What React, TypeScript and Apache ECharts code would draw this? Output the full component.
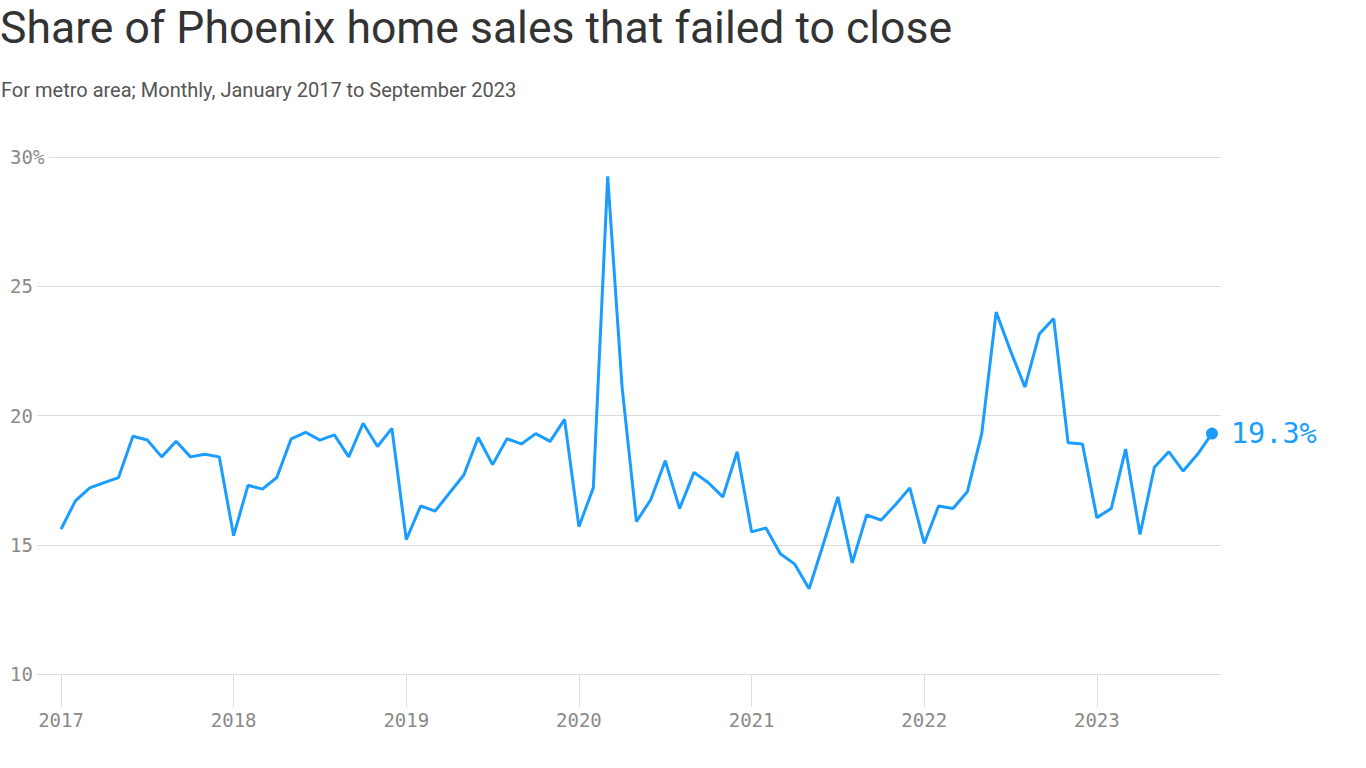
import React, { useEffect, useRef } from 'react';
import * as echarts from 'echarts';

// Share of failed closings, by month (%)
const years = [2017, 2018, 2019, 2020, 2021, 2022, 2023];
const values2017 = [15.6, 16.7, 17.2, 17.4, 17.6, 19.2, 19.05, 18.4, 19.0, 18.4, 18.5, 18.4];
const values2018 = [15.35, 17.3, 17.15, 17.6, 19.1, 19.35, 19.05, 19.25, 18.4, 19.7, 18.8, 19.5];
const values2019 = [15.2, 16.5, 16.3, 17.0, 17.7, 19.15, 18.1, 19.1, 18.9, 19.3, 19.0, 19.85];
const values2020 = [15.7, 17.2, 29.25, 21.1, 15.9, 16.75, 18.25, 16.4, 17.8, 17.4, 16.85, 18.6];
const values2021 = [15.5, 15.65, 14.65, 14.25, 13.3, 15.05, 16.85, 14.3, 16.15, 15.95, 16.55, 17.2];
const values2022 = [15.05, 16.5, 16.4, 17.05, 19.3, 24.0, 22.5, 21.1, 23.15, 23.75, 18.95, 18.9];
const values2023 = [16.05, 16.4, 18.7, 15.4, 18.0, 18.6, 17.85, 18.5, 19.3];

const yTicks = [10, 15, 20, 25, 30];

const TITLE = 'Share of Phoenix home sales that failed to close';
const SUBTITLE = 'For metro area; Monthly, January 2017 to September 2023';

const BLUE = '#1a9dff';
const GRID = '#dddddd';
const AXIS_TEXT = '#8a8a8a';
const MONO = '"DejaVu Sans Mono", "Liberation Mono", monospace';

export default function App() {
  const chartRef = useRef<HTMLDivElement>(null);

  useEffect(() => {
    if (!chartRef.current) return;
    const chart = echarts.init(chartRef.current, undefined, { renderer: 'svg' });

    const allValues = [
      ...values2017,
      ...values2018,
      ...values2019,
      ...values2020,
      ...values2021,
      ...values2022,
      ...values2023,
    ];
    // x = months since January 2017
    const lineData = allValues.map((v, i) => [i, v]);
    const lastIndex = allValues.length - 1;
    const yearStarts = years.map((_, i) => i * 12);

    chart.setOption({
      animation: false,
      title: [
        {
          text: TITLE,
          left: -5,
          top: 0,
          textStyle: {
            fontFamily: 'Roboto, "Noto Sans", sans-serif',
            fontSize: 44.5,
            fontWeight: 400,
            color: '#333333',
          },
        },
        {
          text: SUBTITLE,
          left: -4,
          top: 75,
          textStyle: {
            fontFamily: 'Roboto, "Noto Sans", sans-serif',
            fontSize: 20,
            fontWeight: 400,
            color: '#555555',
          },
        },
      ],
      grid: {
        left: 10,
        right: 145,
        top: 157,
        bottom: 94,
        containLabel: false,
      },
      xAxis: {
        type: 'value',
        min: -3.545,
        max: 80.63,
        axisLine: { show: false },
        splitLine: { show: false },
        axisTick: {
          show: true,
          length: 33,
          customValues: yearStarts,
          lineStyle: { color: GRID, width: 1 },
        },
        axisLabel: {
          customValues: yearStarts,
          margin: 36,
          fontFamily: MONO,
          fontSize: 19,
          color: AXIS_TEXT,
          formatter: (v: number) => {
            const idx = Math.round(v / 12);
            if (Math.abs(v - idx * 12) > 0.01 || idx < 0 || idx >= years.length) return '';
            return String(years[idx]);
          },
        },
      },
      yAxis: {
        type: 'value',
        min: yTicks[0],
        max: yTicks[yTicks.length - 1],
        interval: 5,
        axisLine: { show: false },
        axisTick: { show: false },
        splitLine: { lineStyle: { color: GRID, width: 1 } },
        axisLabel: {
          inside: true,
          margin: 0,
          fontFamily: MONO,
          fontSize: 19,
          color: AXIS_TEXT,
          backgroundColor: '#ffffff',
          padding: [2, 4, 2, 0],
          formatter: (v: number) => (v === 30 ? '30%' : String(v)),
        },
      },
      series: [
        {
          type: 'line',
          data: lineData,
          showSymbol: false,
          symbol: 'none',
          lineStyle: { color: BLUE, width: 3 },
          itemStyle: { color: BLUE },
          z: 3,
        },
        {
          type: 'scatter',
          data: [lineData[lastIndex]],
          symbol: 'circle',
          symbolSize: 12,
          itemStyle: { color: BLUE, opacity: 1 },
          z: 4,
          label: {
            show: true,
            position: 'right',
            distance: 13,
            fontFamily: MONO,
            fontSize: 28.5,
            color: BLUE,
            opacity: 1,
            formatter: (p: any) => `${p.value[1]}%`,
          },
        },
      ],
    });

    return () => {
      chart.dispose();
    };
  }, []);

  return (
    <div
      ref={chartRef}
      style={{ position: 'absolute', left: 0, top: 0, width: 1366, height: 768, background: '#ffffff' }}
    />
  );
}
